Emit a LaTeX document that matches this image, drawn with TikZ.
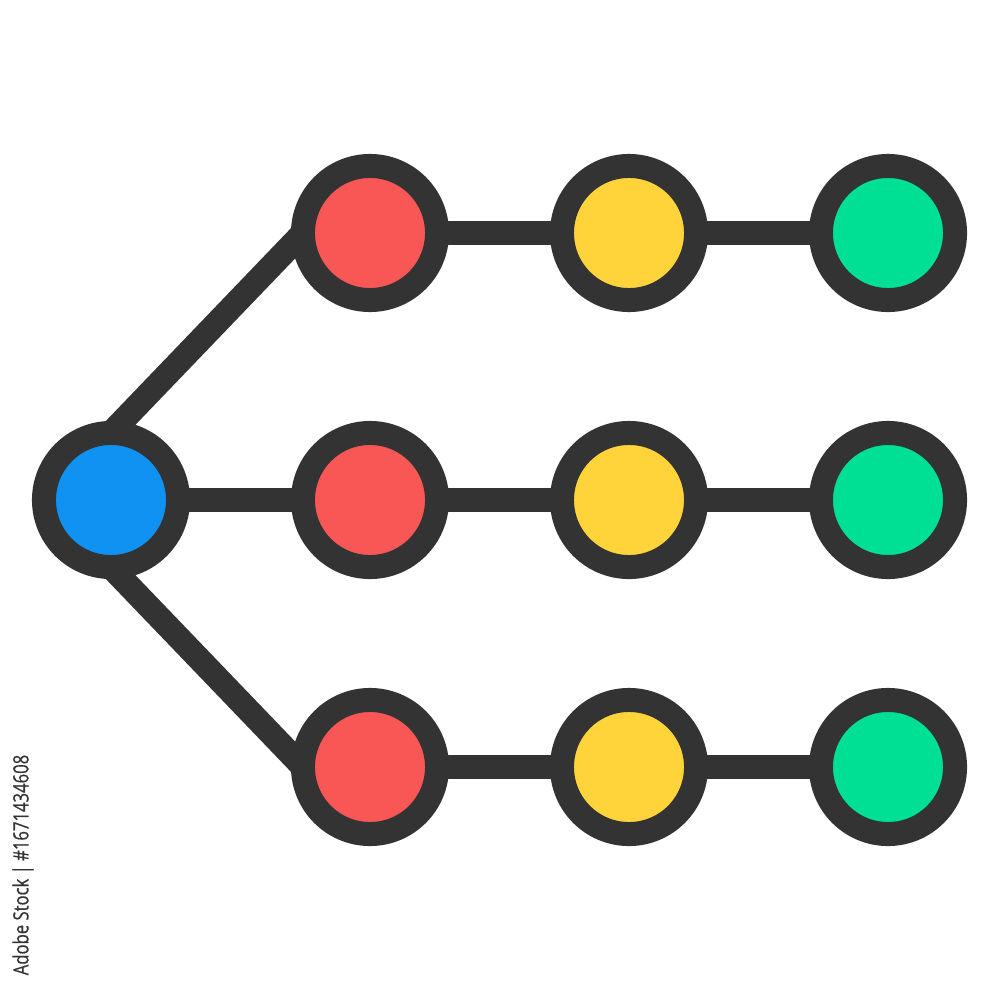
\documentclass[tikz,border=0pt]{standalone}
\usepackage{fontspec}
\setmainfont{Open Sans}
\newfontfamily\stampfont{Open Sans}[FakeBold=0.6]
\usepackage{graphicx}
\usepackage{tikz}

\definecolor{ink}{HTML}{333333}
\definecolor{rootblue}{HTML}{0F92F2}
\definecolor{dotred}{HTML}{F95656}
\definecolor{dotyellow}{HTML}{FFD43B}
\definecolor{dotgreen}{HTML}{00E095}

\tikzset{
  dot/.style={circle, draw=ink, line width=0.24cm, minimum size=1.34cm, inner sep=0pt, outer sep=0pt},
  bar/.style={draw=ink, line width=0.24cm}
}

\begin{document}
\begin{tikzpicture}[x=0.01cm, y=-0.01cm]

\useasboundingbox (0, 0) rectangle (1000, 1000);

\node[dot, fill=rootblue] (root) at (111, 500) {};

\node[dot, fill=dotred] (r1) at (370, 233) {};
\node[dot, fill=dotyellow] (y1) at (629, 233) {};
\node[dot, fill=dotgreen] (g1) at (888, 233) {};

\node[dot, fill=dotred] (r2) at (370, 500) {};
\node[dot, fill=dotyellow] (y2) at (629, 500) {};
\node[dot, fill=dotgreen] (g2) at (888, 500) {};

\node[dot, fill=dotred] (r3) at (370, 767) {};
\node[dot, fill=dotyellow] (y3) at (629, 767) {};
\node[dot, fill=dotgreen] (g3) at (888, 767) {};

\draw[bar] (root.north) -- (r1.west);
\draw[bar] (root.east) -- (r2.west);
\draw[bar] (root.south) -- (r3.west);

\draw[bar] (r1.east) -- (y1.west);
\draw[bar] (y1.east) -- (g1.west);
\draw[bar] (r2.east) -- (y2.west);
\draw[bar] (y2.east) -- (g2.west);
\draw[bar] (r3.east) -- (y3.west);
\draw[bar] (y3.east) -- (g3.west);

\node[rotate=90, text=ink, inner sep=0pt, font=\stampfont\fontsize{6}{7}\selectfont] (stamp) at (23, 865) {\scalebox{0.79}[1]{Adobe Stock | \#1671434608}};

\end{tikzpicture}
\end{document}
